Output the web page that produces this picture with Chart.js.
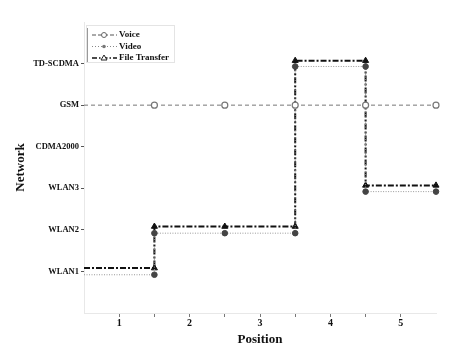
<!DOCTYPE html>
<html>
<head>
<meta charset="utf-8">
<script src="https://cdn.jsdelivr.net/npm/chart.js@4.4.1/dist/chart.umd.min.js"></script>
<style>
  body { margin: 0; background: #fff; }
  canvas { display: block; }
</style>
</head>
<body>
<canvas id="grafica" width="474" height="355"></canvas>
<script>
// networks on the y axis, bottom to top
var networks = ["WLAN1", "WLAN2", "WLAN3", "CDMA2000", "GSM", "TD-SCDMA"];
var xTicks = [1, 1.5, 2, 2.5, 3, 3.5, 4, 4.5, 5];

// values (x = position, y = network level)
var voiceX = [0.5, 1.5, 2.5, 3.5, 4.5, 5.5];
var voiceY = [5, 5, 5, 5, 5, 5];
var videoX = [0.5, 1.5, 1.5, 2.5, 3.5, 3.5, 4.5, 4.5, 5.5];
var videoY = [0.92, 0.92, 1.92, 1.92, 1.92, 5.93, 5.93, 2.92, 2.92];
var fileX = [0.5, 1.5, 1.5, 2.5, 3.5, 3.5, 4.5, 4.5, 5.5];
var fileY = [1.08, 1.08, 2.08, 2.08, 2.08, 6.07, 6.07, 3.07, 3.07];

function pts(xs, ys) {
    return xs.map(function(x, i) { return {x: x, y: ys[i]}; });
}
function radii(xs, r) {
    return xs.map(function(x) { return x == 0.5 ? 0 : r; });
}

var serif = '"Liberation Serif", "DejaVu Serif", serif';

// legend drawn inside the plot, top left
var legendBox = {
    id: 'legendBox',
    afterDraw: function(chart) {
        var ctx = chart.ctx;
        var a = chart.chartArea;
        var x0 = a.left + 2, y0 = a.top + 3;
        ctx.save();
        ctx.strokeStyle = '#e4e4e4';
        ctx.lineWidth = 1;
        ctx.strokeRect(x0 + 0.5, y0 + 0.5, 88, 37);
        ctx.strokeStyle = '#999';
        ctx.beginPath();
        ctx.moveTo(x0 + 1.5, y0 + 3);
        ctx.lineTo(x0 + 1.5, y0 + 37);
        ctx.stroke();
        var items = [
            {label: 'Voice', dash: [4, 2], color: '#555', width: 1, marker: 'circleOpen'},
            {label: 'Video', dash: [1, 2], color: '#888', width: 1, marker: 'dot'},
            {label: 'File Transfer', dash: [5, 2, 1.5, 2], color: '#111', width: 1.5, marker: 'triOpen'}
        ];
        items.forEach(function(it, i) {
            var y = y0 + 10 + i * 11.5;
            ctx.setLineDash(it.dash);
            ctx.strokeStyle = it.color;
            ctx.lineWidth = it.width;
            ctx.beginPath();
            ctx.moveTo(x0 + 6, y);
            ctx.lineTo(x0 + 31, y);
            ctx.stroke();
            ctx.setLineDash([]);
            var mx = x0 + 18;
            ctx.lineWidth = 1;
            if (it.marker == 'circleOpen') {
                ctx.fillStyle = '#fff';
                ctx.strokeStyle = '#666';
                ctx.beginPath(); ctx.arc(mx, y, 2.5, 0, Math.PI * 2); ctx.fill(); ctx.stroke();
            } else if (it.marker == 'dot') {
                ctx.fillStyle = '#777';
                ctx.beginPath(); ctx.arc(mx, y, 1.8, 0, Math.PI * 2); ctx.fill();
            } else {
                ctx.fillStyle = '#fff';
                ctx.strokeStyle = '#222';
                ctx.beginPath();
                ctx.moveTo(mx, y - 3); ctx.lineTo(mx + 3, y + 2); ctx.lineTo(mx - 3, y + 2);
                ctx.closePath(); ctx.fill(); ctx.stroke();
            }
            ctx.fillStyle = '#111';
            ctx.font = 'bold 9px ' + serif;
            ctx.textBaseline = 'middle';
            ctx.fillText(it.label, x0 + 33, y);
        });
        ctx.restore();
    }
};

var ctx = document.getElementById('grafica').getContext('2d');
var chart = new Chart(ctx, {
    type: 'line',
    data: {
        datasets: [
            {
                label: 'Voice',
                data: pts(voiceX, voiceY),
                borderColor: '#777',
                borderWidth: 1,
                borderDash: [4, 3],
                pointStyle: 'circle',
                pointRadius: radii(voiceX, 3),
                pointBackgroundColor: '#fff',
                pointBorderColor: '#777',
                pointBorderWidth: 1.2,
                tension: 0,
                fill: false
            },
            {
                label: 'Video',
                data: pts(videoX, videoY),
                borderColor: '#999',
                borderWidth: 1,
                borderDash: [1, 1.5],
                pointStyle: 'circle',
                pointRadius: radii(videoX, 2.8),
                pointBackgroundColor: '#444',
                pointBorderColor: '#444',
                pointBorderWidth: 1,
                tension: 0,
                fill: false
            },
            {
                label: 'File Transfer',
                data: pts(fileX, fileY),
                borderColor: '#111',
                borderWidth: 2,
                borderDash: [6, 2, 2, 2],
                pointStyle: 'triangle',
                pointRadius: radii(fileX, 3.5),
                pointBackgroundColor: '#111',
                pointBorderColor: '#111',
                pointBorderWidth: 1,
                tension: 0,
                fill: false
            }
        ]
    },
    options: {
        animation: false,
        responsive: false,
        maintainAspectRatio: false,
        clip: false,
        layout: { padding: { top: 22, right: 38, left: 0, bottom: 0 } },
        plugins: {
            legend: { display: false },
            tooltip: { enabled: false }
        },
        scales: {
            x: {
                type: 'linear',
                min: 0.5,
                max: 5.5,
                afterBuildTicks: function(scale) {
                    scale.ticks = xTicks.map(function(v) { return {value: v}; });
                },
                afterFit: function(scale) { scale.height = 42; },
                ticks: {
                    autoSkip: false,
                    maxRotation: 0,
                    padding: 0,
                    color: '#111',
                    font: { family: serif, size: 10, weight: 'bold' },
                    callback: function(v) { return v % 1 == 0 ? String(v) : ''; }
                },
                grid: { drawOnChartArea: false, tickLength: 4, color: '#777' },
                border: { color: '#e8e8e8' },
                title: {
                    display: true,
                    text: 'Position',
                    color: '#111',
                    padding: { top: 0, bottom: 8 },
                    font: { family: serif, size: 13, weight: 'bold' }
                }
            },
            y: {
                type: 'linear',
                min: 0,
                max: 7,
                afterBuildTicks: function(scale) {
                    scale.ticks = networks.map(function(n, i) { return {value: i + 1}; });
                },
                afterFit: function(scale) { scale.width = 84; },
                ticks: {
                    autoSkip: false,
                    padding: 2,
                    color: '#111',
                    font: { family: serif, size: 8.5, weight: 'bold' },
                    callback: function(v) { return networks[v - 1] || ''; }
                },
                grid: { drawOnChartArea: false, tickLength: 3, color: '#555' },
                border: { color: '#e8e8e8' },
                title: {
                    display: true,
                    text: 'Network',
                    color: '#111',
                    padding: { top: 13, bottom: 0 },
                    font: { family: serif, size: 13, weight: 'bold' }
                }
            }
        }
    },
    plugins: [legendBox]
});
</script>
</body>
</html>
